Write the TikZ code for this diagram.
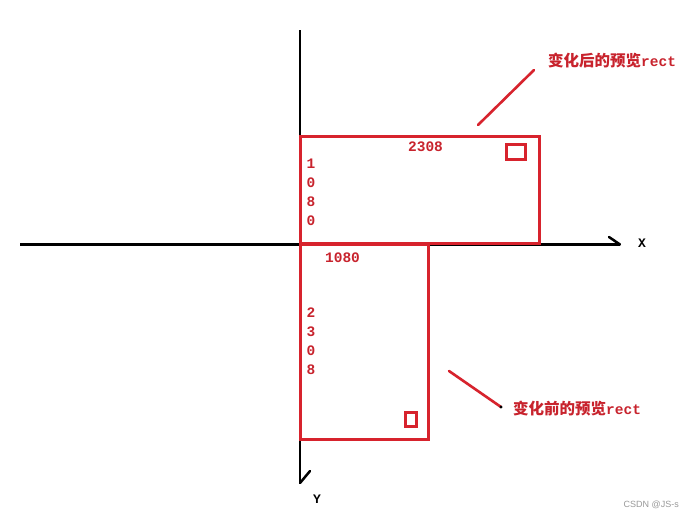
\documentclass[tikz,border=0pt]{standalone}
\usepackage{fontspec}
\setmainfont{Liberation Serif}
\newfontfamily\cjkf{Noto Sans CJK SC}
\newfontfamily\monof{Liberation Mono}
\newfontfamily\wmf{Liberation Sans}
\definecolor{pred}{RGB}{215,35,45}
\definecolor{tred}{RGB}{200,35,45}
\tikzset{
  axisline/.style={line width=2.5pt, black},
  redbox/.style={draw=pred, line width=3pt},
  pointer/.style={draw=pred, line width=2.6pt, line cap=round},
  digit/.style={inner sep=0pt, anchor=base, text=tred, font=\monof\bfseries\fontsize{14.5}{16}\selectfont},
  axislabel/.style={inner sep=0pt, anchor=base, font=\monof\bfseries\fontsize{13}{15}\selectfont},
  callout/.style={inner sep=0pt, anchor=base west, text=tred},
}
\newcommand{\cjklabel}[1]{{\cjkf\bfseries\fontsize{15.5}{17}\selectfont #1}{\monof\bfseries\fontsize{14.5}{16}\selectfont rect}}
\begin{document}
\begin{tikzpicture}[x=1pt, y=-1pt]
\useasboundingbox[fill=white] (0,0) rectangle (694,517);
% axes
\coordinate (xs) at (20,244.5);
\coordinate (xe) at (620,244.5);
\coordinate (xh) at (609,237);
\coordinate (ys) at (300,30);
\coordinate (ye) at (300,483);
\coordinate (yh) at (310,471);
\draw[axisline] (xs) -- (xe);
\draw[axisline, line cap=round] (xe) -- (xh);
\draw[axisline] (ys) -- (ye);
\draw[axisline, line cap=round] (ye) -- (yh);
\node[axislabel] (xl) at (642,247) {X};
\node[axislabel] (yl) at (317,503) {Y};
% rectangles
\draw[redbox] (300,136.5) rectangle (539.5,243.5);
\draw[redbox] (300.5,244.5) rectangle (428.5,439.5);
\draw[redbox] (506.5,144.5) rectangle (525.5,159.5);
\draw[redbox] (405.5,412.5) rectangle (416.5,426.5);
% digits upper
\node[digit] (w1) at (425.5,151) {2308};
\node[digit] (h1a) at (311,168) {1};
\node[digit] (h1b) at (311,187.5) {0};
\node[digit] (h1c) at (311,206.5) {8};
\node[digit] (h1d) at (311,225.5) {0};
% digits lower
\node[digit] (w2) at (342.5,262) {1080};
\node[digit] (h2a) at (311,317) {2};
\node[digit] (h2b) at (311,336.5) {3};
\node[digit] (h2c) at (311,355) {0};
\node[digit] (h2d) at (311,374) {8};
% callouts
\node[callout] (after) at (548,66) {\cjklabel{变化后的预览}};
\node[callout] (before) at (513,414) {\cjklabel{变化前的预览}};
\coordinate (p1s) at (478,125);
\coordinate (p1e) at (534,70);
\coordinate (p2s) at (449,371);
\coordinate (p2e) at (501,407);
\draw[pointer] (p1s) -- (p1e);
\draw[pointer] (p2s) -- (p2e);
\fill[black] (p2e) circle (1.6);
% watermark
\node[inner sep=0pt, anchor=base east, text=black!40, font=\wmf\fontsize{9}{10}\selectfont] (wm) at (679,507) {CSDN @JS-s};
\end{tikzpicture}
\end{document}
